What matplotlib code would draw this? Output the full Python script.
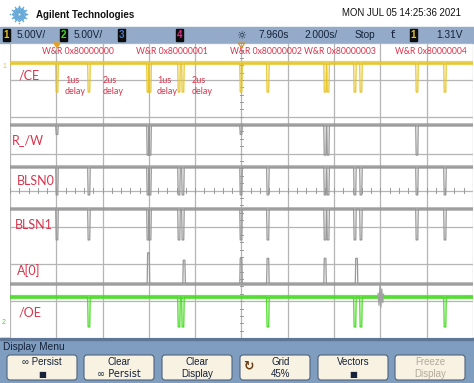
import math
import matplotlib.pyplot as plt
from matplotlib.patches import Rectangle, FancyBboxPatch, Polygon

# ---- data (time in us from screen centre, 2 us/div; levels in divisions) ----
write_times = [-7.97, -4.04, -3.95, -0.02, 3.61, 3.74, 7.58]
read_times = [-6.59, -2.70, -2.53, 1.14, 4.90, 5.16, 8.79]
ce_times = sorted(write_times + read_times)
rw_times = [-4.04, -3.95, 3.61, 3.74, 7.58]
rw_glitch_times = [-7.97, -0.02]
a0_times = [-4.02, -2.48, -0.02, 1.14, 3.61, 4.97]
a0_heights = [0.85, 0.65, 0.7, 0.7, 0.7, 0.7]
burst_times = [5.90, 5.94, 5.98, 6.02, 6.06, 6.10, 6.14]
burst_amps = [0.1, -0.22, 0.3, -0.28, 0.22, -0.15, 0.08]

signal_names = ["/CE", "R_/W", "BLSN0", "BLSN1", "A[0]", "/OE"]
signal_label_y = [7.13, 5.37, 4.25, 3.06, 1.82, 0.70]
signal_label_x = [-9.65, -9.91, -9.70, -9.78, -9.70, -9.65]

txn_labels = ["W&R 0x80000000", "W&R 0x80000001", "W&R 0x80000002",
              "W&R 0x80000003", "W&R 0x80000004"]
txn_x = [-7.06, -3.0, 1.06, 4.26, 8.19]
delay_labels = ["1us\ndelay", "2us\ndelay", "1us\ndelay", "2us\ndelay"]
delay_x = [-7.62, -5.98, -3.65, -2.14]

levels = {"ce": (7.45, 6.67), "rw": (5.77, 4.96), "b0": (4.63, 3.88),
          "b1": (3.50, 2.66), "a0": (1.46, None), "oe": (1.11, 0.30)}

YELLOW = "#e6c62a"
GREEN = "#48da24"
GRAY = "#979797"
RED = "#d8354c"
BAR = "#93abc8"
PANEL = "#7f9dbf"
NAVY = "#15223a"


def pulse_trace(times, base, low, w=0.07, edge=0.02):
    xs, ys = [-10.0], [base]
    for t, lv in zip(times, low):
        xs += [t - w / 2 - edge, t - w / 2, t + w / 2, t + w / 2 + edge]
        ys += [base, lv, lv, base]
    xs.append(10.0)
    ys.append(base)
    return xs, ys


fig = plt.figure(figsize=(4.74, 3.83), dpi=100)
bg = fig.add_axes([0, 0, 1, 1])
bg.set_xlim(0, 474)
bg.set_ylim(383, 0)
bg.axis("off")

# header
bg.add_patch(Rectangle((0, 0), 474, 27, color="white"))
for ang in range(0, 360, 30):
    for r, s in [(3, 3), (6, 2.2), (8.5, 1.2)]:
        bg.plot(19 + r * math.cos(math.radians(ang)), 14 + r * math.sin(math.radians(ang)),
                "o", ms=s, color="#6aaad8", mec="none")
bg.text(36, 14.5, "Agilent Technologies", fontsize=7.0, fontweight="bold",
        family="Liberation Sans", va="center", color="#111")
bg.text(461, 13.5, "MON JUL 05 14:25:36 2021", fontsize=6.9,
        family="Liberation Sans", va="center", ha="right", color="#111")

# status bar
bg.add_patch(Rectangle((0, 27), 474, 16, color=BAR))
for x0, num, col in [(3, "1", YELLOW), (60, "2", GREEN), (118, "3", "#4a78c8"),
                     (176, "4", "#e0308a"), (410, "1", YELLOW)]:
    bg.add_patch(Rectangle((x0, 29), 7, 12, color="#0c0c0c"))
    bg.text(x0 + 3.5, 35.5, num, fontsize=7, fontweight="bold", color=col,
            ha="center", va="center", family="Liberation Sans")
status = [(17, "5.00V/"), (74, "5.00V/"), (259, "7.960s"), (304, "2.000s/"),
          (355, "Stop"), (436, "1.31V")]
for x0, s in status:
    bg.text(x0, 35.5, s, fontsize=7.3, color=NAVY, va="center",
            family="Liberation Sans")
bg.text(391, 35.5, "ƭ", fontsize=8, color=NAVY, va="center", family="DejaVu Sans")
bg.text(241, 35.5, "☼", fontsize=8, color=NAVY, va="center", ha="center",
        family="DejaVu Sans")

# bottom panel
bg.add_patch(Rectangle((0, 338), 474, 45, color=PANEL))
bg.add_patch(Rectangle((0, 338), 474, 2, color="#5f7796"))
bg.text(3, 346.5, "Display Menu", fontsize=7.3, color=NAVY, va="center",
        family="Liberation Sans")
buttons = [(7, "∞ Persist", "■"), (84, "Clear", "∞ Persist"), (162, "Clear", "Display"),
           (240, "Grid", "45%"), (318, "Vectors", "■"), (395, "Freeze", "Display")]
for i, (x0, l1, l2) in enumerate(buttons):
    w = 70
    bg.add_patch(FancyBboxPatch((x0, 355), w, 25, boxstyle="round,pad=0,rounding_size=3",
                                fc="#f8f2e3", ec="#50637e", lw=0.8))
    tc = "#b3aa9c" if i == 5 else NAVY
    cx = x0 + w / 2 + (6 if i == 3 else 0)
    bg.text(cx, 362, l1, fontsize=7, color=tc, ha="center", va="center",
            family="Liberation Sans")
    bg.text(cx, 374, l2, fontsize=7 if l2 != "■" else 6, color=tc, ha="center",
            va="center", family="DejaVu Sans" if l2 in ("■", "∞ Persist") else "Liberation Sans")
bg.text(248, 366, "↻", fontsize=9, color="#6b3d10", ha="center", va="center",
        fontweight="bold", family="DejaVu Sans")

# scope screen
ax = fig.add_axes([10 / 474, 45 / 383, 463 / 474, 295 / 383])
ax.set_xlim(-10, 10)
ax.set_ylim(0, 8)
ax.set_facecolor("white")
for s in ax.spines.values():
    s.set_visible(False)
ax.set_xticks([])
ax.set_yticks([])
for gx in range(-10, 11, 2):
    ax.axvline(gx, color="#b5b5b5", lw=0.9, zorder=1)
for gy in range(0, 9):
    ax.axhline(gy, color="#b5b5b5", lw=0.9, zorder=1)
for k in range(-50, 51):
    tx = k * 0.4
    ax.plot([tx, tx], [3.94, 4.06], color="#9a9a9a", lw=0.7, zorder=1)
for k in range(0, 41):
    ty = k * 0.2
    ax.plot([-0.08, 0.08], [ty, ty], color="#9a9a9a", lw=0.7, zorder=1)


def draw(times, lows, base, col, band=2.6):
    ax.plot([-10, 10], [base, base], color=col, lw=band, alpha=0.8, zorder=3,
            solid_capstyle="butt")
    xs, ys = pulse_trace(times, base, lows)
    ax.plot(xs, ys, color=col, lw=0.9, zorder=4)


ce_base, ce_low = levels["ce"]
draw(ce_times, [ce_low] * len(ce_times), ce_base, YELLOW, band=3.0)

rw_base, rw_low = levels["rw"]
rw_all = sorted(rw_times + rw_glitch_times)
rw_lows = [rw_low if t in rw_times else rw_base - 0.25 for t in rw_all]
draw(rw_all, rw_lows, rw_base, GRAY)

b0_base, b0_low = levels["b0"]
draw(ce_times, [b0_low] * len(ce_times), b0_base, GRAY)
b1_base, b1_low = levels["b1"]
draw(ce_times, [b1_low] * len(ce_times), b1_base, GRAY)

a0_base, _ = levels["a0"]
draw(a0_times, [a0_base + h for h in a0_heights], a0_base, GRAY)

oe_base, oe_low = levels["oe"]
draw(read_times, [oe_low] * len(read_times), oe_base, GREEN, band=3.0)
ax.plot(burst_times, [oe_base + a for a in burst_amps], color="#a0a0a0", lw=0.9, zorder=4)

for name, lx, ly in zip(signal_names, signal_label_x, signal_label_y):
    ax.text(lx, ly, name, color=RED, fontsize=9, va="center", family="Lato", zorder=6)
for lab, lx in zip(txn_labels, txn_x):
    ax.text(lx, 7.78, lab, color=RED, fontsize=6.2, ha="center", va="center",
            family="Lato", zorder=6)
for lab, lx in zip(delay_labels, delay_x):
    ax.text(lx, 7.1, lab, color=RED, fontsize=6.5, ha="left", va="top",
            family="Lato", linespacing=1.3, zorder=6)

# trigger / reference markers
ax.add_patch(Polygon([[-8.1, 8.0], [-7.84, 8.0], [-7.97, 7.87]], closed=True,
                     color="#e8a020", clip_on=False, zorder=7))
ax.add_patch(Polygon([[-0.14, 8.0], [0.14, 8.0], [0.0, 7.86]], closed=True,
                     fc="none", ec="#d09030", lw=0.8, clip_on=False, zorder=7))

# channel ground markers at the left edge
bg.text(4, 66, "1", fontsize=5, color=YELLOW, ha="center", va="center",
        family="Liberation Sans")
bg.text(4, 322, "2", fontsize=5, color=GREEN, ha="center", va="center",
        family="Liberation Sans")

fig.savefig("out.png", dpi=100)
